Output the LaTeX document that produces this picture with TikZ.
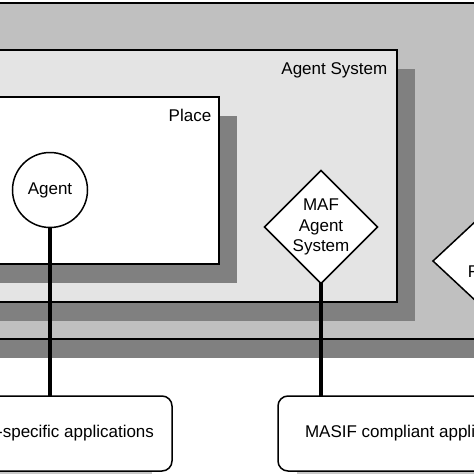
\documentclass[tikz,border=0pt]{standalone}
\usepackage{fontspec}
\setmainfont{Liberation Sans}
\usetikzlibrary{shapes.geometric}
\definecolor{regiongray}{RGB}{192,192,192}
\definecolor{sysgray}{RGB}{228,228,228}
\definecolor{shadowgray}{RGB}{128,128,128}
\definecolor{appshadow}{RGB}{200,200,200}
\begin{document}
\begin{tikzpicture}[x=1pt,y=-1pt,line width=1.5pt,
    font=\fontsize{17}{20.5}\selectfont,
    wire/.style={line width=4.5pt},
    dia/.style={diamond,draw,fill=white,minimum width=112pt,minimum height=110pt,inner sep=0pt,outer sep=0pt,align=center},
    appbox/.style={draw,fill=white,rounded corners=10pt,minimum height=75pt,inner ysep=0pt,outer sep=0pt}]
			\useasboundingbox (0,0) rectangle (474,474);
			\clip (0,0) rectangle (474,474);

			\fill[shadowgray] (-20,22) rectangle (500,358);
			\draw[fill=regiongray] (-20,3) rectangle (500,339);

			\fill[shadowgray] (-20,69) rectangle (415,321);
			\draw[fill=sysgray] (-20,50) rectangle (397,302);
			\node[anchor=base east,inner sep=0pt] at (388,74) {Agent System};

			\fill[shadowgray] (-20,116) rectangle (237,283);
			\draw[fill=white] (-20,97) rectangle (219,264);
			\node[anchor=base east,inner sep=0pt] at (212,121) {Place};

			\fill[appshadow] (-20,472) rectangle (152,480);
			\fill[appshadow] (297,472) rectangle (500,480);

			\node[circle,draw,fill=white,minimum size=75pt,inner sep=0pt,outer sep=0pt] (agent) at (50,190) {Agent};
			\node[dia] (mafas) at (321,227) {MAF\\Agent\\System};
			\node[dia,minimum width=118pt] (maffinder) at (492,261) {MAF\\Finder};

			\node[appbox,anchor=east,inner xsep=18pt] (vendor) at (172,433.5) {Vendor-specific applications};
			\node[appbox,anchor=west,inner xsep=27pt] (masif) at (278,433.5) {MASIF compliant applications};

			\draw[wire] (agent.south) -- (agent.south |- vendor.north);
			\draw[wire] (mafas.south) -- (mafas.south |- masif.north);
		    \end{tikzpicture}
\end{document}
